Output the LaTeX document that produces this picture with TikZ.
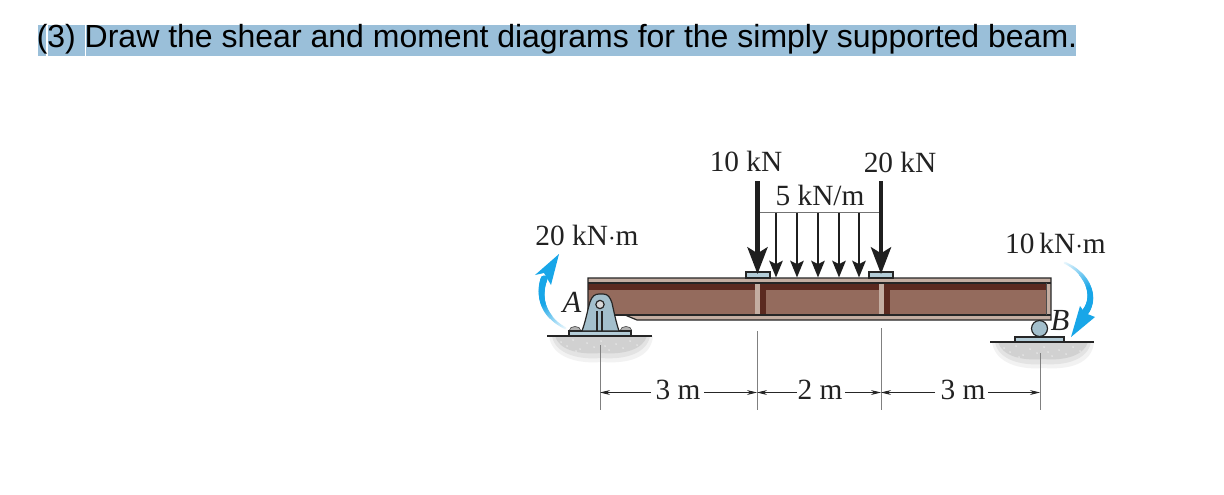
\documentclass[tikz,border=0pt]{standalone}
\usepackage{fontspec}
\setmainfont{Liberation Serif}
\newfontfamily\titlefont{Liberation Sans}
\usetikzlibrary{arrows.meta}
\definecolor{hl}{HTML}{9ABFD9}
\definecolor{web}{HTML}{946B5D}
\definecolor{stripe}{HTML}{5B2A20}
\definecolor{tan}{HTML}{C4AEA2}
\definecolor{plate}{HTML}{B4CDD8}
\definecolor{pedestal}{HTML}{A3BFCC}
\definecolor{mblue}{HTML}{18A6E8}
\definecolor{lbl}{HTML}{222222}
\tikzset{
  x=0.75pt,y=-0.75pt,
  lab/.style={anchor=base,inner sep=0pt,font=\fontsize{22}{24}\selectfont,text=lbl},
  dimlab/.style={anchor=base,inner ysep=0pt,inner xsep=3.5pt,font=\fontsize{22}{24}\selectfont,text=lbl},
  title/.style={anchor=base west,inner sep=0pt,font=\titlefont\fontsize{24}{28}\selectfont},
  bigarrow/.style={line width=3.4pt,color=black!88,-{Stealth[length=20pt,width=15pt,inset=4.5pt]}},
  smallarrow/.style={line width=2.1pt,color=black!88,-{Stealth[length=12.5pt,width=10pt,inset=2.5pt]}},
  dimarrow/.style={line width=0.55pt,color=black!85,-{Stealth[length=7.5pt,width=3.6pt]}},
  ext/.style={line width=0.7pt,color=black!50},
  outline/.style={line width=0.9pt,draw=black!85},
}
\newcommand{\fademoment}[8]{%
  \foreach \i in {0,...,50}{%
    \pgfmathsetmacro{\tt}{\i/50}%
    \pgfmathsetmacro{\uu}{1-\tt}%
    \pgfmathsetmacro{\xx}{\uu^3*#1+3*\uu^2*\tt*#3+3*\uu*\tt^2*#5+\tt^3*#7}%
    \pgfmathsetmacro{\yy}{\uu^3*#2+3*\uu^2*\tt*#4+3*\uu*\tt^2*#6+\tt^3*#8}%
    \pgfmathsetmacro{\pp}{min(100,10+150*\tt)}%
    \pgfmathsetmacro{\rr}{1.0+1.7*\tt}%
    \fill[mblue!\pp!white] (\xx,\yy) circle[radius=\rr pt];
  }%
}
\begin{document}
\begin{tikzpicture}
\useasboundingbox (0,0) rectangle (1224,494);
\fill[white] (0,0) rectangle (1224,494);
% title
\fill[hl] (38,25) rectangle (46,56);
\fill[hl] (48,25) rectangle (85,56);
\fill[hl] (86,25) rectangle (1076,56);
\node[title] (ttl) at (36.5,47) {(3) Draw the shear and moment diagrams for the simply supported beam.};
% ground
\foreach \ox/\w/\lw in {549/104/336,992/102/342}{
  \fill[black!5] (\ox,\lw) .. controls (\ox+3,\lw+22) and (\ox+30,\lw+28) .. (\ox+\w/2,\lw+26) .. controls (\ox+\w-25,\lw+28) and (\ox+\w-2,\lw+22) .. (\ox+\w,\lw) -- cycle;
  \fill[black!11] (\ox+3,\lw) .. controls (\ox+6,\lw+18) and (\ox+30,\lw+24) .. (\ox+\w/2,\lw+22) .. controls (\ox+\w-27,\lw+24) and (\ox+\w-6,\lw+17) .. (\ox+\w-3,\lw) -- cycle;
  \fill[black!18] (\ox+6,\lw) .. controls (\ox+10,\lw+14) and (\ox+30,\lw+19) .. (\ox+\w/2,\lw+17) .. controls (\ox+\w-28,\lw+19) and (\ox+\w-10,\lw+13) .. (\ox+\w-6,\lw) -- cycle;
  \foreach \dx/\dy in {12/6,18/10,24/4,31/13,38/7,45/11,52/5,60/14,67/8,74/12,81/5,88/9,27/15,56/10}{
    \fill[white] (\ox+\dx,\lw+\dy) circle[radius=0.55pt];
  }
}
% beam
\fill[web] (588,290) rectangle (1046,315);
\fill[tan] (588,278) rectangle (1051,283);
\fill[stripe] (588,283) rectangle (1046,290);
\fill[tan] (1046,283) rectangle (1051,315);
\fill[tan] (637,315) -- (1051,315) -- (1051,320) -- (637,320) -- (627,315.5) -- cycle;
\fill[stripe] (755,283) rectangle (766,315);
\fill[stripe] (879,283) rectangle (890,315);
\fill[tan] (755,283) rectangle (760,315);
\fill[tan] (879,283) rectangle (884,315);
\draw[outline] (588,315) -- (588,278) -- (1051,278) -- (1051,320) -- (637,320) -- (625,315);
\draw[outline] (588,283) -- (1051,283);
\draw[outline] (588,315) -- (1051,315);
\draw[line width=.5pt,black!70] (1046,283) -- (1046,315);
% plates
\foreach \px in {746,869}{
  \filldraw[fill=plate,outline] (\px,272) rectangle (\px+24,278);
}
% dimension extension lines
\coordinate (e1t) at (600,345); \coordinate (e1b) at (600,410);
\coordinate (e2t) at (757,331); \coordinate (e2b) at (757,410);
\coordinate (e3t) at (881,328); \coordinate (e3b) at (881,410);
\coordinate (e4t) at (1040,353); \coordinate (e4b) at (1040,410);
% support A
\filldraw[fill=black!30,draw=black!70,line width=.5pt] (575,330) ellipse[x radius=5.5,y radius=3.5];
\filldraw[fill=black!30,draw=black!70,line width=.5pt] (626,330) ellipse[x radius=5.5,y radius=3.5];
\filldraw[fill=plate,outline] (569,331) rectangle (631,336);
\filldraw[fill=pedestal,outline] (582,331) .. controls (586,320) and (587,312) .. (590,302) .. controls (592,296) and (595,294) .. (599,294) -- (603,294) .. controls (608,294) and (610,297) .. (612,303) .. controls (614,312) and (616,322) .. (619,331) -- cycle;
\filldraw[fill=black!15,outline] (600,304.5) circle[radius=3.1pt];
\draw[line width=.8pt,black!85] (597,311) -- (597,331) (602,311) -- (602,331);
% support B
\filldraw[fill=plate,outline] (1015,337) rectangle (1064,342);
\filldraw[fill=pedestal,outline] (1039.5,328.5) circle[radius=6pt];
% ground lines
\draw[line width=.9pt,black!85] (547,336) -- (652,336);
\draw[line width=.9pt,black!85] (990,342) -- (1094,342);
% extension lines on top of ground
\draw[ext] (e1t) -- (e1b);
\draw[ext] (e2t) -- (e2b);
\draw[ext] (e3t) -- (e3b);
\draw[ext] (e4t) -- (e4b);
% dimension text and arrows
\node[dimlab] (d1) at (678,399) {3 m};
\node[dimlab] (d2) at (820,399) {2 m};
\node[dimlab] (d3) at (963,399) {3 m};
\coordinate (y1) at (600,392.5); \coordinate (y2) at (757,392.5);
\coordinate (y3) at (881,392.5); \coordinate (y4) at (1040,392.5);
\coordinate (d1l) at (651,392.5); \coordinate (d1r) at (704,392.5);
\coordinate (d2l) at (797,392.5); \coordinate (d2r) at (845,392.5);
\coordinate (d3l) at (935,392.5); \coordinate (d3r) at (988,392.5);
\draw[dimarrow] (d1l) -- (y1);
\draw[dimarrow] (d1r) -- (y2);
\draw[dimarrow] (d2l) -- (y2);
\draw[dimarrow] (d2r) -- (y3);
\draw[dimarrow] (d3l) -- (y3);
\draw[dimarrow] (d3r) -- (y4);
% distributed load
\coordinate (q1) at (757,212.5); \coordinate (q2) at (881,212.5);
\draw[line width=.6pt,black!55] (q1) -- (q2);
\foreach \ax in {776,797,818,839,859}{
  \draw[smallarrow] (\ax,212.5) -- (\ax,277.5);
}
\coordinate (f1t) at (757.5,181); \coordinate (f1b) at (757.5,274);
\coordinate (f2t) at (881,181); \coordinate (f2b) at (881,274);
\draw[bigarrow] (f1t) -- (f1b);
\draw[bigarrow] (f2t) -- (f2b);
% moments
\fademoment{565}{328}{546}{318}{537}{300}{544}{279}
\fill[mblue] (559,254) -- (535,275) -- (544,273) -- (551,285) -- cycle;
\fademoment{1065}{263}{1086}{272}{1097}{295}{1086}{311}
\fill[mblue] (1071,337) -- (1080,306) -- (1085,313) -- (1095,317) -- cycle;
% labels
\node[lab] (p10) at (746,171) {10 kN};
\node[lab] (p20) at (900,172) {20 kN};
\node[lab] (w5) at (820,205) {5 kN/m};
\node[lab] (m20) at (587,245) {20 kN$\cdot$m};
\node[lab] (m10) at (1055.5,253) {10\,kN$\cdot$m};
\node[lab,font=\itshape\fontsize{23}{24}\selectfont] (la) at (572,312) {A};
\node[lab,font=\itshape\fontsize{23}{24}\selectfont] (lb) at (1060,330) {B};
\end{tikzpicture}
\end{document}
